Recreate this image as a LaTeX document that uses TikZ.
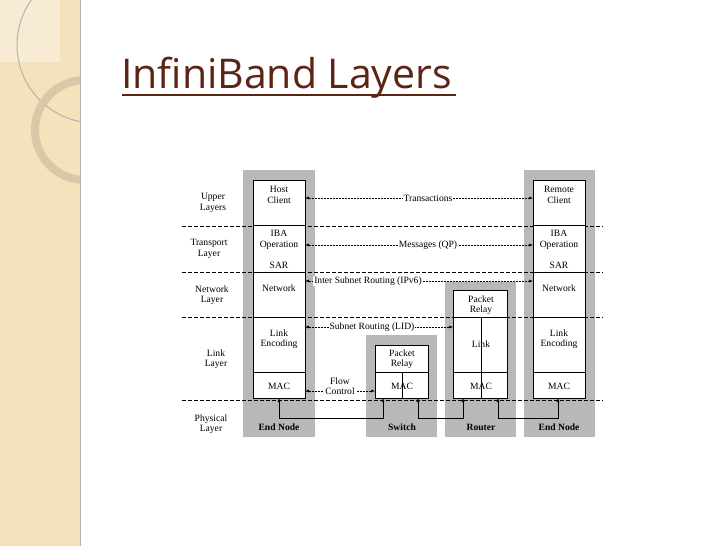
\documentclass[tikz,border=0pt]{standalone}
\usepackage{fontspec}
\setmainfont{Liberation Serif}
\newfontfamily\titlefont{Open Sans}
\usetikzlibrary{arrows.meta}
\definecolor{titlebrown}{HTML}{5C2414}
\definecolor{strip}{HTML}{F3E2BC}
\definecolor{ringc}{HTML}{D8C8A8}
\begin{document}
\begin{tikzpicture}[x=1pt,y=-1pt,
  gray/.style={fill=black!28,draw=none},
  wbox/.style={fill=white,draw=black,line width=0.6pt},
  lbl/.style={font=\fontsize{9.6}{10.4}\selectfont,align=center,inner sep=1pt},
  blbl/.style={font=\fontsize{9.6}{10.4}\selectfont\bfseries,inner sep=1pt},
  layer/.style={line width=0.7pt,dash pattern=on 4pt off 2pt},
  msg/.style={densely dotted,{Latex[length=4pt]}-{Latex[length=4pt]},line width=0.5pt},
  phy/.style={{Latex[length=4pt]}-{Latex[length=4pt]},line width=0.5pt}]
\useasboundingbox (0,0) rectangle (728,546);
\fill[white] (0,0) rectangle (728,546);
% left decoration
\fill[strip] (0,0) rectangle (80,546);
\begin{scope}
\clip (0,0) rectangle (80,546);
\fill[white,opacity=0.35] (0,0) rectangle (60,62);
\draw[black!30,line width=1pt] (95,45) circle (78);
\draw[ringc,line width=8pt] (85,130) circle (50);
\end{scope}
\draw[black!30,line width=1pt] (80,0) -- (80,546);
% title
\node[anchor=base west,text=titlebrown,font=\titlefont\fontsize{41}{46}\selectfont,inner sep=0] (title) at (121,88) {InfiniBand Layers};
\draw[titlebrown,line width=2pt] (122,95) -- (456,95);
% gray columns
\fill[gray] (243,170) rectangle (315,437);
\fill[gray] (524,170) rectangle (595,437);
\fill[gray] (366,335) rectangle (437,437);
\fill[gray] (445,282) rectangle (516,437);
% layer dashed lines
\foreach \y in {226,272,317,400} \draw[layer] (182,\y) -- (603,\y);
% end node columns
\foreach \a/\b in {253/305,533/585}{
  \draw[wbox] (\a,180) rectangle (\b,398);
  \foreach \y in {225,272,317,372} \draw[line width=0.6pt] (\a,\y) -- (\b,\y);
}
% switch
\draw[wbox] (375,345) rectangle (428,398);
\draw (375,372) -- (428,372); \draw (402,372) -- (402,398);
% router
\draw[wbox] (453,290) rectangle (507,398);
\draw (453,317) -- (507,317); \draw (453,372) -- (507,372); \draw (481,317) -- (481,398);
% column texts
\node[lbl] (hc) at (279,195) {Host\\Client};
\node[lbl] (rc) at (559,195) {Remote\\Client};
\node[lbl] (io1) at (279,240) {IBA\\Operation};
\node[lbl] (io2) at (559,240) {IBA\\Operation};
\node[lbl] (sar1) at (279,265) {SAR};
\node[lbl] (sar2) at (559,265) {SAR};
\node[lbl] (nw1) at (279,288) {Network};
\node[lbl] (nw2) at (559,288) {Network};
\node[lbl] (le1) at (279,339) {Link\\Encoding};
\node[lbl] (le2) at (559,339) {Link\\Encoding};
\node[lbl] (mac1) at (279,386) {MAC};
\node[lbl] (mac2) at (559,386) {MAC};
\node[lbl] (spr) at (402,359) {Packet\\Relay};
\node[lbl] (smac) at (402,386) {MAC};
\node[lbl] (rpr) at (481,305) {Packet\\Relay};
\node[lbl] (rlk) at (481,344) {Link};
\node[lbl] (rmac) at (481,386) {MAC};
% left layer labels
\node[lbl] (l1) at (213,203) {Upper\\Layers};
\node[lbl] (l2) at (209,249) {Transport\\Layer};
\node[lbl] (l3) at (212,295) {Network\\Layer};
\node[lbl] (l4) at (216,359) {Link\\Layer};
\node[lbl] (l5) at (211,424) {Physical\\Layer};
% bottom labels
\node[blbl] (en1) at (279,427) {End Node};
\node[blbl] (sw) at (402,427) {Switch};
\node[blbl] (rt) at (481,427) {Router};
\node[blbl] (en2) at (559,427) {End Node};
% message arrows
\coordinate (t1) at (305,198); \coordinate (t2) at (533,198);
\draw[msg] (t1) -- (t2);
\node[lbl,fill=white] (tr) at (428,198) {Transactions};
\coordinate (m1) at (305,245); \coordinate (m2) at (533,245);
\draw[msg] (m1) -- (m2);
\node[lbl,fill=white] (ms) at (428,245) {Messages (QP)};
\coordinate (i1) at (305,281); \coordinate (i2) at (533,281);
\draw[msg] (i1) -- (i2);
\node[lbl,fill=white] (isr) at (368,281) {Inter Subnet Routing (IPv6)};
\coordinate (s1) at (305,327); \coordinate (s2) at (453,327);
\draw[msg] (s1) -- (s2);
\node[lbl,fill=white] (sr) at (372,327) {Subnet Routing (LID)};
\coordinate (f1) at (305,391); \coordinate (f2) at (375,391);
\draw[msg] (f1) -- (f2);
\node[lbl,fill=white] (fc) at (340,386) {Flow\\Control};
% physical links
\coordinate (p1) at (279,398); \coordinate (p2) at (383,398);
\coordinate (p3) at (418,398); \coordinate (p4) at (463,398);
\coordinate (p5) at (498,398); \coordinate (p6) at (558,398);
\draw[phy] (p1) -- ++(0,20) -| (p2);
\draw[phy] (p3) -- ++(0,20) -| (p4);
\draw[phy] (p5) -- ++(0,20) -| (p6);
\end{tikzpicture}
\end{document}
